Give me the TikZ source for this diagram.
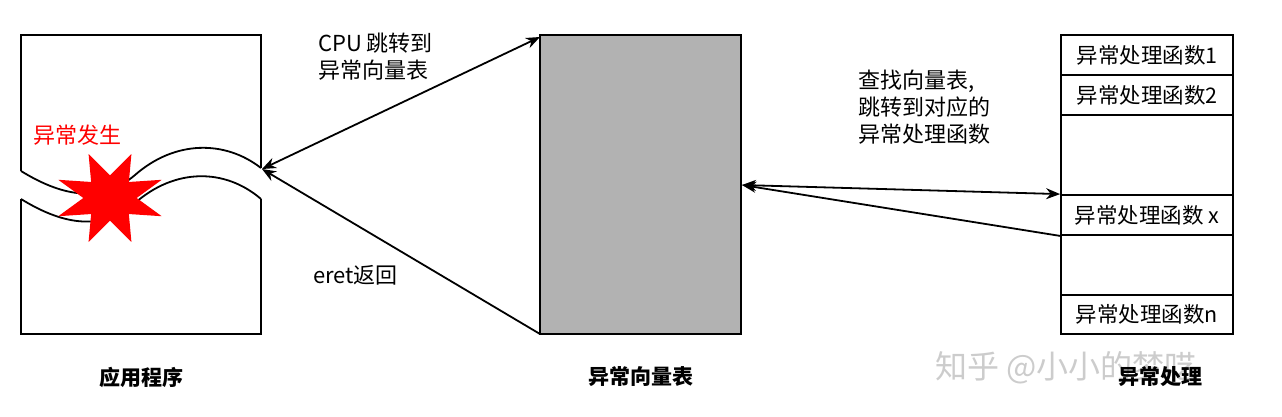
\documentclass[tikz,border=0pt]{standalone}
\usepackage{fontspec}
\setmainfont{Noto Sans CJK SC}
\usetikzlibrary{arrows.meta,shapes.geometric}
\begin{document}
\begin{tikzpicture}[x=1pt,y=-1pt,
  lbl/.style={font=\fontsize{22}{27}\selectfont,align=left,inner sep=0pt},
  cell/.style={draw,line width=1.8pt,minimum width=172pt,inner sep=0pt,font=\fontsize{21.5}{24}\selectfont},
  arr/.style={line width=1.8pt,-{Stealth[length=14pt,width=11pt]}},
  darr/.style={line width=1.8pt,{Stealth[length=14pt,width=11pt]}-{Stealth[length=14pt,width=11pt]}},
  captxt/.style={font=\bfseries\fontsize{21}{24}\selectfont}]
\useasboundingbox (0,0) rectangle (1282,416);
\node[font=\fontsize{32}{36}\selectfont,text=black!20,anchor=west] (wm) at (932,368) {知乎 @小小的梦呓};
% app
\draw[line width=1.8pt] (21,171) -- (21,35) -- (261,35) -- (261,168);
\draw[line width=1.8pt] (21,199) -- (21,334) -- (261,334) -- (261,199);
\draw[line width=1.8pt] (21,171) .. controls (60,195) and (100,205) .. (135,175) .. controls (175,140) and (225,140) .. (261,168);
\draw[line width=1.8pt] (21,199) .. controls (60,223) and (100,233) .. (135,203) .. controls (175,168) and (225,168) .. (261,199);
\node[star,star points=8,star point ratio=2.1,shape border rotate=22.5,fill=red,inner sep=0pt,minimum size=112pt,yscale=0.85] (star) at (110,198) {};
\node[lbl,text=red,anchor=west] (exc) at (33,135) {异常发生};
\coordinate (appR) at (262,169);
% vector table
\node[draw,line width=1.8pt,fill=black!30,minimum width=201pt,minimum height=299pt,inner sep=0pt] (vt) at (640.5,184.5) {};
\coordinate (vtTL) at (540,37);
\coordinate (vtBL) at (540,334);
\coordinate (vtR) at (742,185);
\draw[darr] (appR) -- (vtTL);
\draw[arr] (vtBL) -- (appR);
\node[lbl,anchor=west] (cpu) at (318,57) {CPU 跳转到\\异常向量表};
\node[lbl,anchor=west] (eret) at (313,275) {eret返回};
% handlers
\node[cell,minimum height=40pt] (h1) at (1147,55) {异常处理函数1};
\node[cell,minimum height=40pt] (h2) at (1147,95) {异常处理函数2};
\node[cell,minimum height=80pt] (h3) at (1147,155) {};
\node[cell,minimum height=40pt] (hx) at (1147,215) {异常处理函数 x};
\node[cell,minimum height=60pt] (h5) at (1147,265) {};
\node[cell,minimum height=39pt] (hn) at (1147,314.5) {异常处理函数n};
\draw[darr] (vtR) -- (hx.north west);
\draw[arr] (hx.south west) -- (vtR);
\node[lbl,anchor=west] (find) at (858,107) {查找向量表,\\跳转到对应的\\异常处理函数};
% captions
\node[captxt] (c1) at (141,377) {应用程序};
\node[captxt] (c2) at (641,377) {异常向量表};
\node[captxt] (c3) at (1160,377) {异常处理};
\end{tikzpicture}
\end{document}
